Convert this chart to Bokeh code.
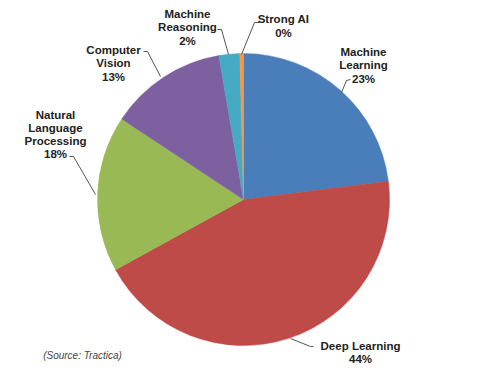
import math
from bokeh.plotting import figure
from bokeh.models import Range1d, ColumnDataSource
from bokeh.core.properties import value
from bokeh.embed import file_html
from bokeh.resources import INLINE

categories = ["Machine Learning", "Deep Learning", "Natural Language Processing",
              "Computer Vision", "Machine Reasoning", "Strong AI"]
shares = [23.0, 44.0, 17.3, 13.0, 2.3, 0.4]
label_texts = ["Machine\nLearning\n23%", "Deep Learning\n44%", "Natural\nLanguage\nProcessing\n18%",
               "Computer\nVision\n13%", "Machine\nReasoning\n2%", "Strong AI\n0%"]
colors = ["#4A7EBB", "#BE4B48", "#98B954", "#7D60A0", "#46AAC5", "#F79646"]

W, H = 484, 368
p = figure(width=W, height=H, output_backend="svg", toolbar_location=None,
           x_range=Range1d(0, 484), y_range=Range1d(8, 376), min_border=0)
p.axis.visible = False
p.grid.visible = False
p.outline_line_color = None
p.background_fill_color = "white"

def Y(iy):
    return 384 - iy

cx, cy, r = 243, Y(207), 146
total = sum(shares)
starts, ends = [], []
cum = 0.0
for s in shares:
    starts.append(math.pi / 2 - 2 * math.pi * cum / total)
    cum += s
    ends.append(math.pi / 2 - 2 * math.pi * cum / total)

src = ColumnDataSource(dict(cat=categories, share=shares, start=starts, end=ends, color=colors))
p.wedge(x=cx, y=cy, radius=r, start_angle="start", end_angle="end", direction="clock",
        fill_color="color", line_color="color", line_width=0.5, source=src)

# label positions (image pixel coords)
lx = [363, 360, 55, 113, 187, 283]
ly = [73, 360, 142, 71, 35, 33.5]
lsrc = ColumnDataSource(dict(x=lx, y=[Y(v) for v in ly], t=label_texts))
p.text(x="x", y="y", text="t", source=lsrc, text_align="center", text_baseline="middle",
       text_font=value("Liberation Sans"), text_font_style="bold", text_font_size="11.5px",
       text_color="#222222", text_line_height=1.1)

# leader lines
leaders = [
    [(350, 87), (346, 88), (341, 100)],
    [(313, 354), (310, 354), (290, 346)],
    [(69, 164), (73, 164), (95, 202)],
    [(143, 59), (147, 59), (160, 84)],
    [(217, 37), (221, 37), (228, 62)],
    [(259, 30), (254, 30), (241, 62)],
]
p.multi_line(xs=[[pt[0] for pt in l] for l in leaders], ys=[[Y(pt[1]) for pt in l] for l in leaders],
             line_color="#555555", line_width=1)

p.text(x=[82], y=[Y(363)], text=["(Source: Tractica)"], text_align="center", text_baseline="middle",
       text_font=value("Liberation Sans"), text_font_style="italic", text_font_size="10px",
       text_color="#444444")

open("out.html", "w").write(file_html(p, INLINE))
